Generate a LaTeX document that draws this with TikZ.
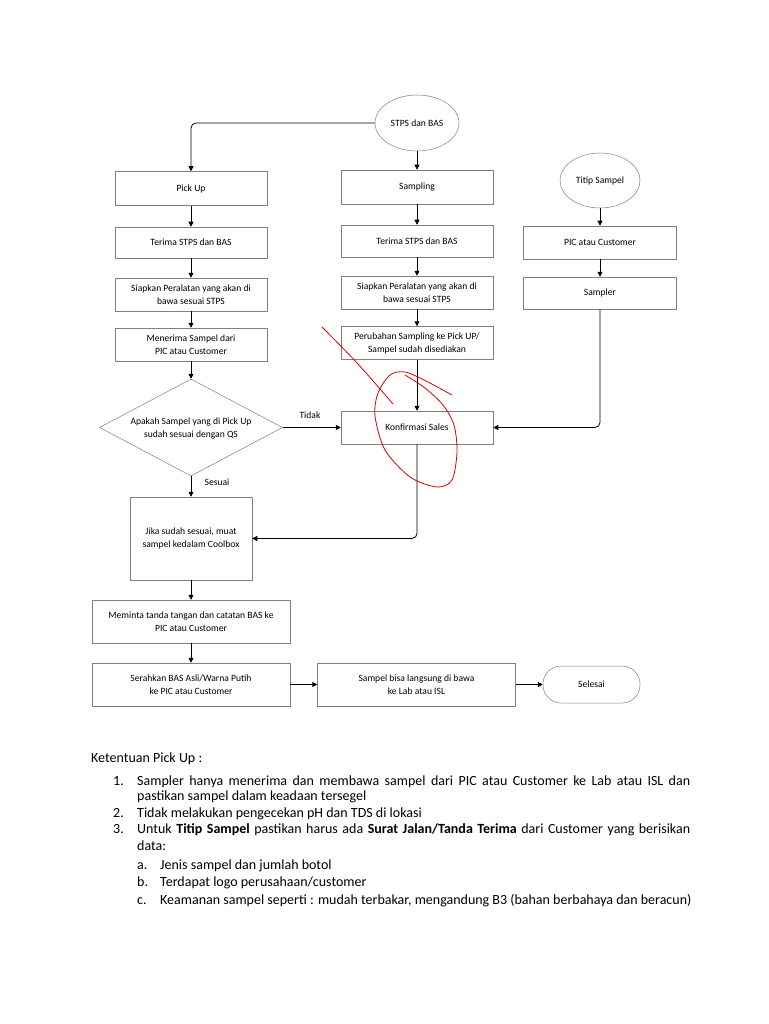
\documentclass[tikz,border=0pt]{standalone}
\usepackage{fontspec}
\setmainfont{Carlito}
\usetikzlibrary{shapes.geometric, arrows.meta}

\begin{document}
\begin{tikzpicture}[x=1pt, y=-1pt]
	\tikzstyle{every node}+=[inner sep=0pt, font=\fontsize{9.6}{13}\selectfont]
	\tikzstyle{box}=[draw=black!50, line width=0.5pt, rectangle, minimum width=152pt, minimum height=33pt, align=center]
	\tikzstyle{oval}=[draw=black!50, line width=0.5pt, ellipse, align=center]
	\tikzstyle{arr}=[-{Triangle[length=5pt,width=5pt]}, line width=0.8pt, rounded corners=5pt]
	\tikzstyle{note}=[anchor=base west, font=\fontsize{14}{17}\selectfont]
	\useasboundingbox (0,0) rectangle (768,1024);
	\fill [white] (0,0) rectangle (768,1024);
	% left column
	\node [box, minimum height=34pt] (pick) at (191,188.5) {Pick Up};
	\node [box, minimum height=31pt] (terimaA) at (191,242.5) {Terima STPS dan BAS};
	\node [box] (siapA) at (191,294.5) {Siapkan Peralatan yang akan di\\bawa sesuai STPS};
	\node [box] (terimaSampel) at (191,344.5) {Menerima Sampel dari\\PIC atau Customer};
	\node [draw=black!50, line width=0.5pt, diamond, minimum width=183pt, minimum height=97pt] (cek) at (191,427.5) {};
	\node [align=center] (cekText) at (191,428) {Apakah Sampel yang di Pick Up\\sudah sesuai dengan QS};
	\node [box, minimum width=122pt, minimum height=83pt] (muat) at (191,538.5) {Jika sudah sesuai, muat\\sampel kedalam Coolbox};
	\node [box, minimum width=198pt, minimum height=43pt] (tanda) at (191,621.5) {Meminta tanda tangan dan catatan BAS ke\\PIC atau Customer};
	\node [box, minimum width=198pt, minimum height=43pt] (serah) at (191,684.5) {Serahkan BAS Asli/Warna Putih\\ke PIC atau Customer};
	\node [box, minimum width=198pt, minimum height=43pt] (bawa) at (416.5,684.5) {Sampel bisa langsung di bawa\\ke Lab atau ISL};
	\node [draw=black!50, line width=0.5pt, rounded corners=18pt, minimum width=97pt, minimum height=37pt] (selesai) at (591.5,684.5) {Selesai};
	% middle column
	\node [oval, minimum width=84pt, minimum height=56pt] (stps) at (417,123) {STPS dan BAS};
	\node [box, minimum height=34pt] (sampling) at (417,187) {Sampling};
	\node [box, minimum height=32pt] (terimaB) at (417,241) {Terima STPS dan BAS};
	\node [box] (siapB) at (417,292.5) {Siapkan Peralatan yang akan di\\bawa sesuai STPS};
	\node [box] (ubah) at (417,343) {Perubahan Sampling ke Pick UP/\\Sampel sudah disediakan};
	\node [box] (konfirmasi) at (417,427.5) {Konfirmasi Sales};
	% right column
	\node [oval, minimum width=80pt, minimum height=55pt] (titip) at (600,180.5) {Titip Sampel};
	\node [box, minimum width=153pt] (pic) at (600,242.5) {PIC atau Customer};
	\node [box, minimum width=153pt, minimum height=32pt] (sampler) at (600,293) {Sampler};
	% connectors
	\draw [arr] (stps.west) -| (pick.north);
	\draw [arr] (stps) -- (sampling);
	\draw [arr] (pick) -- (terimaA);
	\draw [arr] (terimaA) -- (siapA);
	\draw [arr] (siapA) -- (terimaSampel);
	\draw [arr] (terimaSampel) -- (cek.north);
	\draw [arr] (cek.south) -- (muat);
	\node (sesuai) at (217,482) {Sesuai};
	\draw [arr] (cek.east) -- (konfirmasi.west);
	\node (tidak) at (310,415) {Tidak};
	\draw [arr] (sampling) -- (terimaB);
	\draw [arr] (terimaB) -- (siapB);
	\draw [arr] (siapB) -- (ubah);
	\draw [arr] (ubah) -- (konfirmasi);
	\draw [arr] (titip) -- (pic);
	\draw [arr] (pic) -- (sampler);
	\draw [arr] (sampler.south) |- (konfirmasi.east);
	\draw [arr] (konfirmasi.south) |- (muat.east);
	\draw [arr] (muat) -- (tanda);
	\draw [arr] (tanda) -- (serah);
	\draw [arr] (serah) -- (bawa);
	\draw [arr] (bawa) -- (selesai);
	% red marks
	\draw [red!85!black, line width=0.8pt] plot [smooth] coordinates {(322,327) (358,364) (393,404)};
	\draw [red!85!black, line width=0.8pt] plot [smooth] coordinates {(452,395) (426,381) (405,372) (390,375) (378,393) (375,416) (385,450) (410,477) (437,487) (452,480) (457,452) (454,425) (443,405) (425,388) (405,375)};
	% notes
	\node [note] (ketentuan) at (91,762) {Ketentuan Pick Up :};
	\node [note] (n1) at (113,785) {1.};
	\node [note] (t1a) at (137,785) {\makebox[553pt][s]{Sampler hanya menerima dan membawa sampel dari PIC atau Customer ke Lab atau ISL dan}};
	\node [note] (t1b) at (137,800) {pastikan sampel dalam keadaan tersegel};
	\node [note] (n2) at (113,817) {2.};
	\node [note] (t2) at (137,817) {Tidak melakukan pengecekan pH dan TDS di lokasi};
	\node [note] (n3) at (113,833) {3.};
	\node [note] (t3a) at (137,833) {\makebox[553pt][s]{Untuk \textbf{Titip Sampel} pastikan harus ada \textbf{Surat Jalan/Tanda Terima} dari Customer yang berisikan}};
	\node [note] (t3b) at (137,850) {data:};
	\node [note] (na) at (137,869) {a.};
	\node [note] (ta) at (160,869) {Jenis sampel dan jumlah botol};
	\node [note] (nb) at (137,886) {b.};
	\node [note] (tb) at (160,886) {Terdapat logo perusahaan/customer};
	\node [note] (nc) at (137,904) {c.};
	\node [note] (tc) at (160,904) {Keamanan sampel seperti : mudah terbakar, mengandung B3 (bahan berbahaya dan beracun)};
\end{tikzpicture}
\end{document}
